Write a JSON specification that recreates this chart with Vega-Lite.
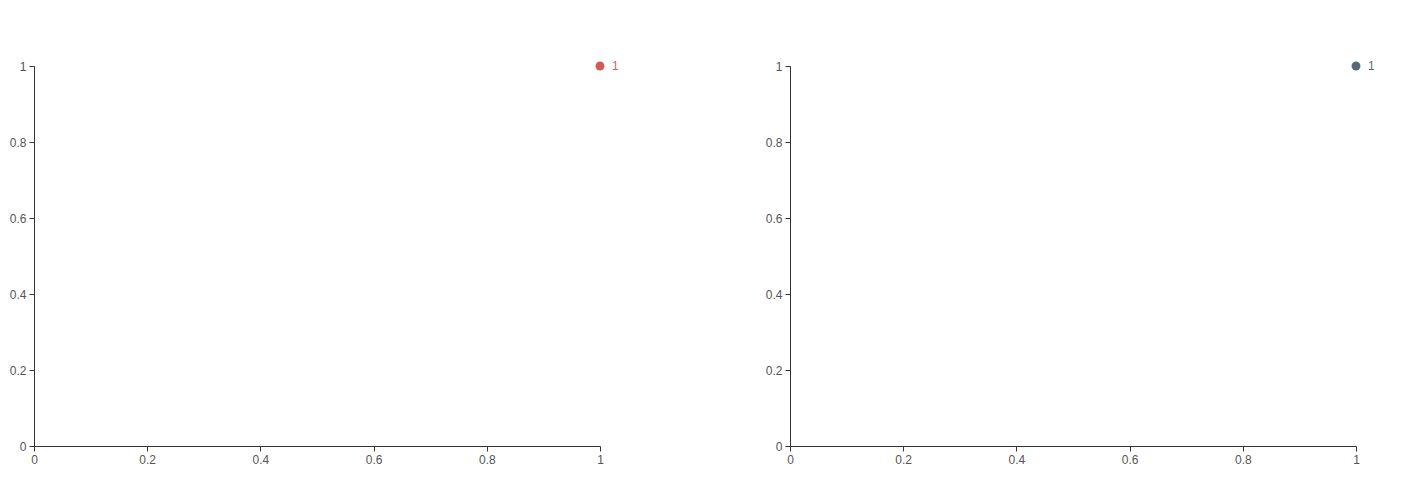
{
  "$schema": "https://vega.github.io/schema/vega-lite/v6.json",
  "background": "white",
  "padding": {"left": 9, "top": 60, "right": 5, "bottom": 5},
  "bounds": "flush",
  "spacing": 190,
  "datasets": {
    "left": [{"x": 1, "y": 1, "label": "1"}],
    "right": [{"x": 1, "y": 1, "label": "1"}]
  },
  "config": {
    "view": {"stroke": null},
    "font": "Liberation Sans",
    "axis": {
      "grid": false,
      "domainColor": "#333333",
      "tickColor": "#333333",
      "labelColor": "#555555",
      "labelFontSize": 12,
      "labelFont": "Liberation Sans",
      "labelFlush": false,
      "tickSize": 5,
      "labelPadding": 3,
      "title": null
    }
  },
  "hconcat": [
    {
      "width": 566,
      "height": 380,
      "data": {"name": "left"},
      "encoding": {
        "x": {"field": "x", "type": "quantitative", "scale": {"domain": [0, 1], "nice": false}, "axis": {"values": [0, 0.2, 0.4, 0.6, 0.8, 1], "format": ".1~f"}},
        "y": {"field": "y", "type": "quantitative", "scale": {"domain": [0, 1], "nice": false}, "axis": {"values": [0, 0.2, 0.4, 0.6, 0.8, 1], "format": ".1~f"}}
      },
      "layer": [
        {"mark": {"type": "point", "filled": true, "size": 80, "color": "#c23531", "opacity": 0.8}},
        {"mark": {"type": "text", "align": "left", "baseline": "middle", "dx": 12, "fontSize": 12, "color": "#c23531", "opacity": 0.8}, "encoding": {"text": {"field": "label"}}}
      ]
    },
    {
      "width": 566,
      "height": 380,
      "data": {"name": "right"},
      "encoding": {
        "x": {"field": "x", "type": "quantitative", "scale": {"domain": [0, 1], "nice": false}, "axis": {"values": [0, 0.2, 0.4, 0.6, 0.8, 1], "format": ".1~f"}},
        "y": {"field": "y", "type": "quantitative", "scale": {"domain": [0, 1], "nice": false}, "axis": {"values": [0, 0.2, 0.4, 0.6, 0.8, 1], "format": ".1~f"}}
      },
      "layer": [
        {"mark": {"type": "point", "filled": true, "size": 80, "color": "#2f4554", "opacity": 0.8}},
        {"mark": {"type": "text", "align": "left", "baseline": "middle", "dx": 12, "fontSize": 12, "color": "#2f4554", "opacity": 0.8}, "encoding": {"text": {"field": "label"}}}
      ]
    }
  ]
}
